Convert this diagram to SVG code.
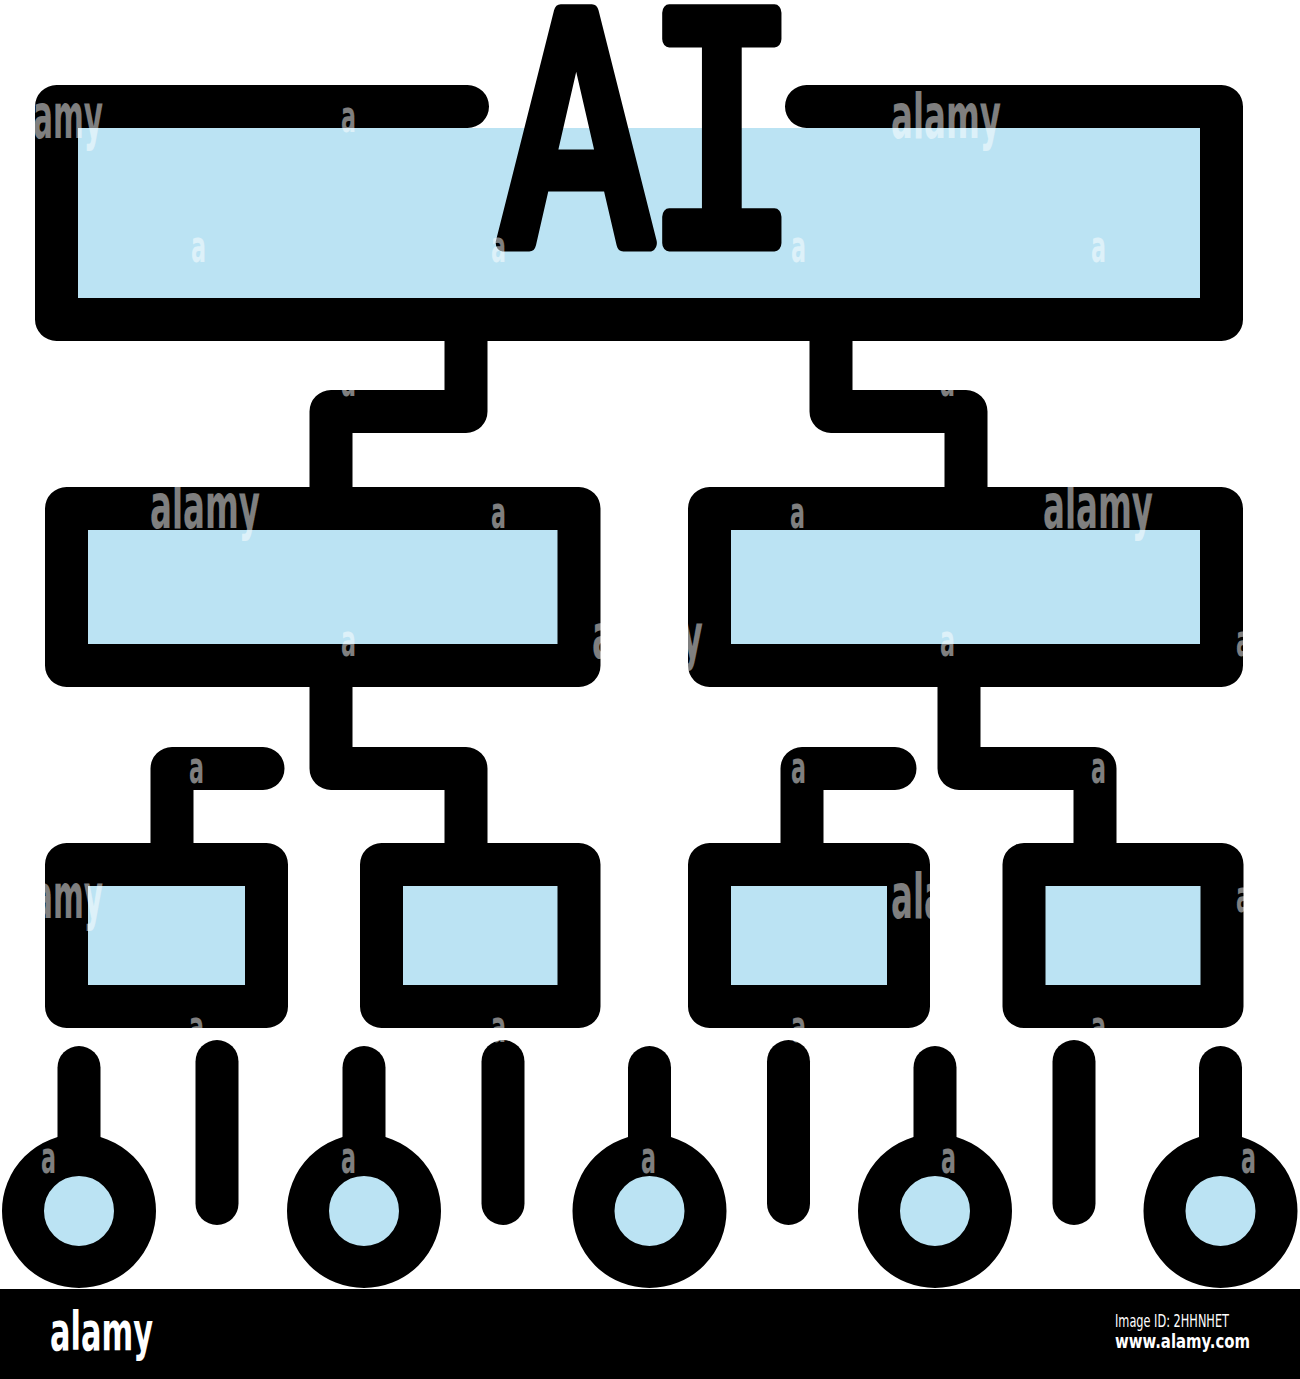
<svg xmlns="http://www.w3.org/2000/svg" width="1300" height="1379" viewBox="0 0 1300 1379">
<style>
.box{fill:#BBE3F3;stroke:#000;stroke-width:43;stroke-linejoin:round}
.ln{fill:none;stroke:#000;stroke-width:43;stroke-linejoin:round}
.rc{stroke-linecap:round}
.ring{fill:#BBE3F3;stroke:#000;stroke-width:42}
.wm{fill:#fff;fill-opacity:0.5;font-family:"DejaVu Sans Condensed","DejaVu Sans",sans-serif;font-weight:bold}
.wa{font-size:44px}
.ww{font-size:62px}
</style>
<rect x="0" y="0" width="1300" height="1379" fill="#fff"/>
<g id="top">
<rect x="78" y="128" width="1122" height="170" fill="#BBE3F3"/>
<path class="ln rc" d="M467.5,106.5 H56.5 V319.5 H1221.5 V106.5 H806.5"/>
<text x="0 177" y="243" transform="translate(498,0) scale(0.823,1)" font-family="'DejaVu Sans Mono',monospace" font-size="316" fill="#000" stroke="#000" stroke-width="17" stroke-linejoin="round">AI</text>
</g>
<g id="connectors">
<path class="ln" d="M466,330 V411.5 H331 V500"/>
<path class="ln" d="M831,330 V411.5 H966 V500"/>
<path class="ln" d="M331,675 V768.5 H466 V855"/>
<path class="ln rc" d="M172,855 V768.5 H263"/>
<path class="ln" d="M959,675 V768.5 H1095 V855"/>
<path class="ln rc" d="M802,855 V768.5 H895"/>
<path class="ln rc" d="M79,1067.5 V1150"/>
<path class="ln rc" d="M364,1067.5 V1150"/>
<path class="ln rc" d="M649.5,1067.5 V1150"/>
<path class="ln rc" d="M935,1067.5 V1150"/>
<path class="ln rc" d="M1220.5,1067.5 V1150"/>
<path class="ln rc" d="M217,1061.5 V1203.5"/>
<path class="ln rc" d="M503,1061.5 V1203.5"/>
<path class="ln rc" d="M788.5,1061.5 V1203.5"/>
<path class="ln rc" d="M1074,1061.5 V1203.5"/>
</g>
<g id="mid-left"><rect class="box" x="66.5" y="508.5" width="512.5" height="157"/></g>
<g id="mid-right"><rect class="box" x="709.5" y="508.5" width="512" height="157"/></g>
<g id="leaf1"><rect class="box" x="66.5" y="864.5" width="200" height="142"/></g>
<g id="leaf2"><rect class="box" x="381.5" y="864.5" width="197.5" height="142"/></g>
<g id="leaf3"><rect class="box" x="709.5" y="864.5" width="199" height="142"/></g>
<g id="leaf4"><rect class="box" x="1024" y="864.5" width="198" height="142"/></g>
<g id="node1"><circle class="ring" cx="79" cy="1211" r="56"/></g>
<g id="node2"><circle class="ring" cx="364" cy="1211" r="56"/></g>
<g id="node3"><circle class="ring" cx="649.5" cy="1211" r="56"/></g>
<g id="node4"><circle class="ring" cx="935" cy="1211" r="56"/></g>
<g id="node5"><circle class="ring" cx="1220.5" cy="1211" r="56"/></g>
<g id="watermark">
<text class="wm ww" x="33" y="138" textLength="70" lengthAdjust="spacingAndGlyphs">amy</text>
<text class="wm ww" x="891" y="138" textLength="110" lengthAdjust="spacingAndGlyphs">alamy</text>
<text class="wm ww" x="150" y="528" textLength="110" lengthAdjust="spacingAndGlyphs">alamy</text>
<text class="wm ww" x="1043" y="528" textLength="110" lengthAdjust="spacingAndGlyphs">alamy</text>
<text class="wm ww" x="592" y="658" textLength="111" lengthAdjust="spacingAndGlyphs">alamy</text>
<text class="wm ww" x="33" y="918" textLength="70" lengthAdjust="spacingAndGlyphs">amy</text>
<text class="wm ww" x="891" y="918" textLength="110" lengthAdjust="spacingAndGlyphs">alamy</text>
<text class="wm wa" x="341" y="132" textLength="15" lengthAdjust="spacingAndGlyphs">a</text>
<text class="wm wa" x="191" y="262" textLength="15" lengthAdjust="spacingAndGlyphs">a</text>
<text class="wm wa" x="491" y="262" textLength="15" lengthAdjust="spacingAndGlyphs">a</text>
<text class="wm wa" x="791" y="262" textLength="15" lengthAdjust="spacingAndGlyphs">a</text>
<text class="wm wa" x="1091" y="262" textLength="15" lengthAdjust="spacingAndGlyphs">a</text>
<text class="wm wa" x="341" y="396" textLength="15" lengthAdjust="spacingAndGlyphs">a</text>
<text class="wm wa" x="940" y="396" textLength="15" lengthAdjust="spacingAndGlyphs">a</text>
<text class="wm wa" x="491" y="528" textLength="15" lengthAdjust="spacingAndGlyphs">a</text>
<text class="wm wa" x="790" y="528" textLength="15" lengthAdjust="spacingAndGlyphs">a</text>
<text class="wm wa" x="341" y="656" textLength="15" lengthAdjust="spacingAndGlyphs">a</text>
<text class="wm wa" x="940" y="656" textLength="15" lengthAdjust="spacingAndGlyphs">a</text>
<text class="wm wa" x="1236" y="656" textLength="15" lengthAdjust="spacingAndGlyphs">a</text>
<text class="wm wa" x="189" y="783" textLength="15" lengthAdjust="spacingAndGlyphs">a</text>
<text class="wm wa" x="491" y="783" textLength="15" lengthAdjust="spacingAndGlyphs">a</text>
<text class="wm wa" x="791" y="783" textLength="15" lengthAdjust="spacingAndGlyphs">a</text>
<text class="wm wa" x="1091" y="783" textLength="15" lengthAdjust="spacingAndGlyphs">a</text>
<text class="wm wa" x="1236" y="912" textLength="15" lengthAdjust="spacingAndGlyphs">a</text>
<text class="wm wa" x="189" y="1042" textLength="15" lengthAdjust="spacingAndGlyphs">a</text>
<text class="wm wa" x="491" y="1042" textLength="15" lengthAdjust="spacingAndGlyphs">a</text>
<text class="wm wa" x="791" y="1042" textLength="15" lengthAdjust="spacingAndGlyphs">a</text>
<text class="wm wa" x="1091" y="1042" textLength="15" lengthAdjust="spacingAndGlyphs">a</text>
<text class="wm wa" x="41" y="1173" textLength="15" lengthAdjust="spacingAndGlyphs">a</text>
<text class="wm wa" x="341" y="1173" textLength="15" lengthAdjust="spacingAndGlyphs">a</text>
<text class="wm wa" x="641" y="1173" textLength="15" lengthAdjust="spacingAndGlyphs">a</text>
<text class="wm wa" x="941" y="1173" textLength="15" lengthAdjust="spacingAndGlyphs">a</text>
<text class="wm wa" x="1241" y="1173" textLength="15" lengthAdjust="spacingAndGlyphs">a</text>
</g>
<g id="footer">
<rect x="0" y="1289" width="1300" height="90" fill="#000"/>
<text x="50" y="1350" fill="#fff" font-family="'DejaVu Sans Condensed','DejaVu Sans',sans-serif" font-weight="bold" font-size="54" textLength="103" lengthAdjust="spacingAndGlyphs">alamy</text>
<text x="1115" y="1327" fill="#fff" font-family="'DejaVu Sans Condensed','DejaVu Sans',sans-serif" font-size="17" textLength="114" lengthAdjust="spacingAndGlyphs">Image ID: 2HHNHET</text>
<text x="1115" y="1348" fill="#fff" font-family="'DejaVu Sans Condensed','DejaVu Sans',sans-serif" font-weight="bold" font-size="19" textLength="135" lengthAdjust="spacingAndGlyphs">www.alamy.com</text>
</g>
</svg>
